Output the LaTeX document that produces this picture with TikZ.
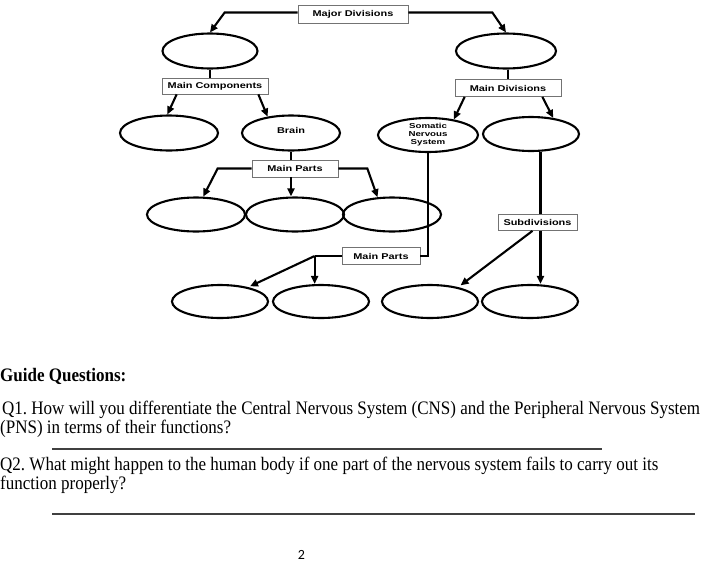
\documentclass[tikz,border=0pt]{standalone}
\usepackage{fontspec}
\setmainfont{Liberation Serif}
\setsansfont{Liberation Sans}
\newfontfamily\carl{Carlito}
\usetikzlibrary{shapes.geometric,arrows.meta}
\newcommand\wide[1]{\scalebox{1.3}[1]{#1}}
\newcommand\widesm[1]{\scalebox{1.35}[1]{#1}}
\newcommand\tall[1]{\scalebox{1}[1.12]{#1}}
\frenchspacing
\begin{document}
\begin{tikzpicture}[x=1pt,y=-1pt,
  ell/.style={ellipse,draw=black,line width=2.1pt,inner sep=0pt,minimum width=97pt,minimum height=34pt},
  lab/.style={draw=black!55,line width=0.7pt,fill=white,inner sep=0pt,font=\sffamily\bfseries\fontsize{8.4}{9}\selectfont},
  con/.style={line width=2.1pt},
  arr/.style={con,-{Triangle[length=8pt,width=7pt]}},
  qt/.style={anchor=base west,inner sep=0pt,font=\fontsize{17}{19}\selectfont},
  uline/.style={line width=1.2pt,draw=black!75}]
\fill[white] (0,0) rectangle (707,563);
\useasboundingbox (0,0) rectangle (707,563);

% nodes
\node[lab,minimum width=110pt,minimum height=18pt] (md) at (353,14.5) {\wide{Major Divisions}};
\node[ell,minimum width=95pt,minimum height=35pt] (e1) at (210,51) {};
\node[ell,minimum width=100pt,minimum height=35pt] (e2) at (506,51) {};
\node[lab,minimum width=106pt,minimum height=16pt] (mc) at (215,86) {\wide{Main Components}};
\node[lab,minimum width=106pt,minimum height=17pt] (mdv) at (508,88) {\wide{Main Divisions}};
\node[ell,minimum width=98pt,minimum height=35pt] (e3) at (169,133) {};
\node[ell,minimum width=98pt,minimum height=35pt,
  label={[yshift=3pt,font=\sffamily\bfseries\fontsize{8.4}{9}\selectfont]center:\wide{Brain}}] (brain) at (291,133) {};
\node[ell,minimum width=100pt,minimum height=34pt,align=center,
  font=\sffamily\bfseries\fontsize{7.2}{8}\selectfont] (som) at (428,135)
  {\widesm{Somatic}\\\widesm{Nervous}\\\widesm{System}};
\node[ell,minimum width=96pt,minimum height=34pt] (e4) at (531,134) {};
\node[lab,minimum width=86pt,minimum height=17pt] (mp1) at (295,168.5) {\wide{Main Parts}};
\node[ell,minimum width=98pt,minimum height=34pt] (f1) at (196,214.5) {};
\node[ell,minimum width=98pt,minimum height=34pt] (f2) at (295,214.5) {};
\node[ell,minimum width=98pt,minimum height=34pt] (f3) at (392,214.5) {};
\node[lab,minimum width=79pt,minimum height=16pt] (sub) at (537.5,222.5) {\wide{Subdivisions}};
\node[lab,minimum width=78pt,minimum height=17pt] (mp2) at (381,256) {\wide{Main Parts}};
\node[ell,minimum width=96pt,minimum height=33pt] (g1) at (220,301.5) {};
\node[ell,minimum width=96pt,minimum height=33pt] (g2) at (321,301.5) {};
\node[ell,minimum width=96pt,minimum height=33pt] (g3) at (430,301.5) {};
\node[ell,minimum width=96pt,minimum height=33pt] (g4) at (530,301.5) {};

% connectors
\draw[arr] ([yshift=2pt]md.west) -- ++(-73,0) -- (e1.north);
\draw[arr] ([yshift=2pt]md.east) -- ++(84,0) -- (e2.north);
\draw[con] (e1.south) -- (e1.south |- mc.north);
\draw[arr] ([xshift=15pt]mc.south west) -- (e3.95);
\draw[arr] ([xshift=-10pt]mc.south east) -- (brain.145);
\draw[con] (mdv.north) -- (mdv.north |- e2.south);
\draw[arr] ([xshift=10pt]mdv.south west) -- (som.31);
\draw[arr] ([xshift=-19pt]mdv.south east) -- (e4.36);
\draw[con] (brain.south) -- (brain.south |- mp1.north);
\draw[arr] (mp1.west) -- ++(-34,0) -- (f1.68);
\draw[arr] (brain.south |- mp1.south) -- (brain.south |- f2.north);
\draw[arr] (mp1.east) -- ++(29,0) -- (f3.130);
\draw[con] (som.south) |- (mp2.east);
\draw[con] (mp2.west) -- ++(-27,0) coordinate (j2);
\draw[arr,shorten >=2pt] (j2) -- (g1.27);
\draw[arr] (j2) -- (j2 |- g2.north);
\draw[con] ([xshift=3pt]sub.north) -- ([xshift=3pt]sub.north |- e4.south);
\draw[arr,shorten >=3pt] ([xshift=-5pt]sub.south) -- (g3.27);
\draw[arr] ([xshift=3pt]sub.south) -- ([xshift=3pt]sub.south |- g4.north);

% guide questions
\node[qt,font=\bfseries\fontsize{17}{19}\selectfont] (gq) at (0,381) {\tall{Guide Questions:}};
\node[qt] (q1a) at (2,414) {\tall{Q1. How will you differentiate the Central Nervous System (CNS) and the Peripheral Nervous System}};
\node[qt] (q1b) at (0,433) {\tall{(PNS) in terms of their functions?}};
\draw[uline] (52,449) -- (602,449);
\node[qt] (q2a) at (0,470) {\tall{Q2. What might happen to the human body if one part of the nervous system fails to carry out its}};
\node[qt] (q2b) at (0,489) {\tall{function properly?}};
\draw[uline] (52,514) -- (695,514);
\node[inner sep=0pt,font=\carl\fontsize{14}{14}\selectfont] (pg) at (301.5,554.5) {2};
\end{tikzpicture}
\end{document}
